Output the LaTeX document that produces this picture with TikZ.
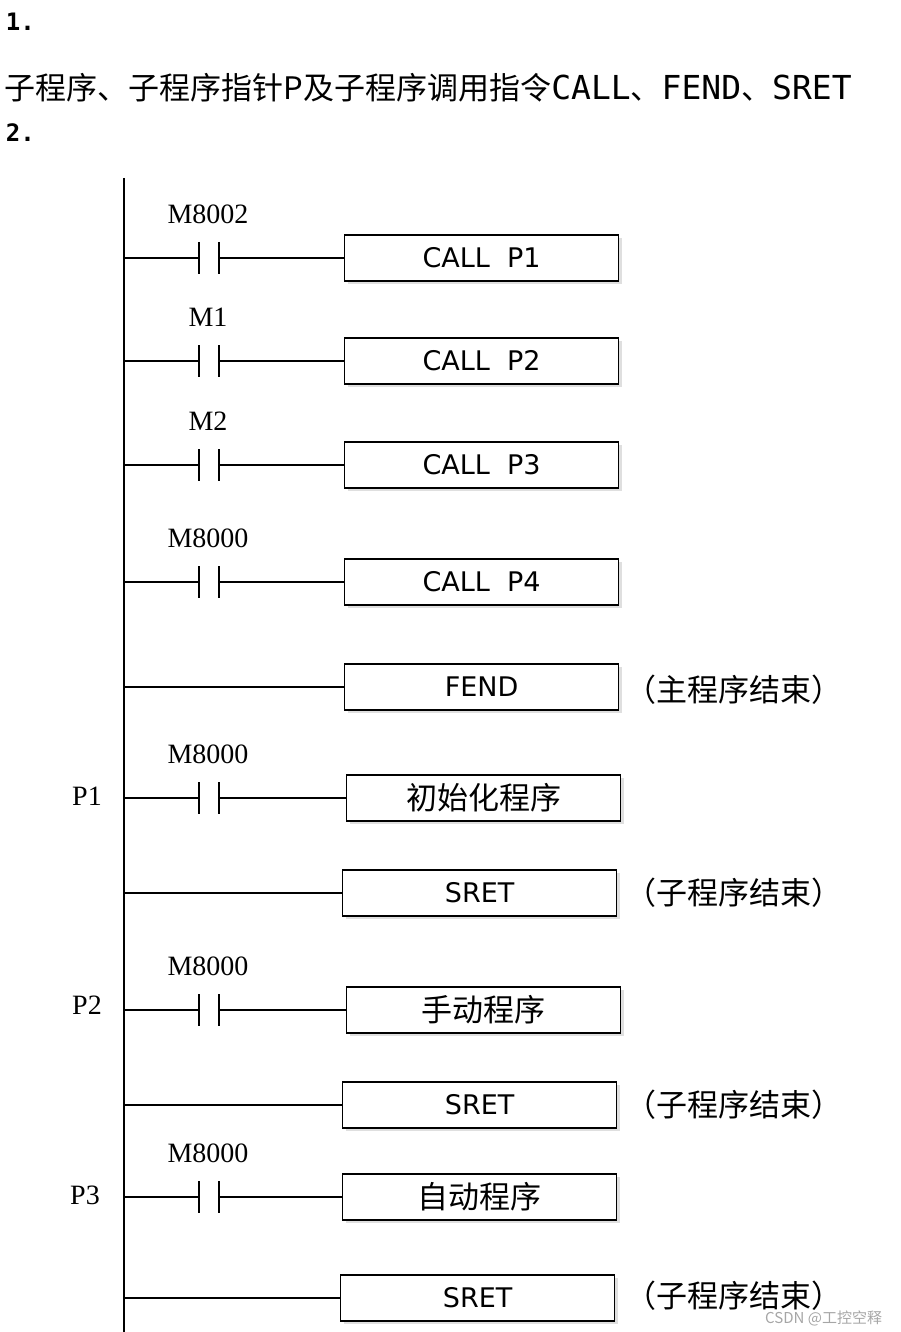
\documentclass[tikz,border=0pt]{standalone}
\usepackage{fontspec}
\usetikzlibrary{shadows}
\setmainfont{Liberation Serif}
\newfontfamily\cjk{Noto Sans CJK SC}
\newfontfamily\sans{DejaVu Sans}
\newfontfamily\mono{DejaVu Sans Mono}
\begin{document}
\begin{tikzpicture}[x=1pt,y=-1pt,line width=1.3pt,
  box/.style={draw,fill=white,minimum width=274pt,minimum height=46pt,inner sep=0,font=\sans\fontsize{27}{27}\selectfont,drop shadow={opacity=0.25,shadow xshift=3pt,shadow yshift=-3pt}},
  lab/.style={font=\fontsize{28}{28}\selectfont},
  cmt/.style={font=\cjk\fontsize{31}{31}\selectfont,anchor=west}]
\useasboundingbox (0,0) rectangle (900,1332);
\node[anchor=west,font=\mono\bfseries\fontsize{24}{24}\selectfont] (n1) at (2,22) {1.};
\node[anchor=west,font=\cjk\fontsize{31}{31}\selectfont,inner sep=0] (t) at (4,88) {子程序、子程序指针P及子程序调用指令{\mono\fontsize{33}{33}\selectfont CALL}、{\mono\fontsize{33}{33}\selectfont FEND}、{\mono\fontsize{33}{33}\selectfont SRET}};
\node[anchor=west,font=\mono\bfseries\fontsize{24}{24}\selectfont] (n2) at (2,133) {2.};
\coordinate (rt) at (124,178); \coordinate (rb) at (124,1332);
\draw (rt) -- (rb);
\foreach \y/\l/\bx/\t/\i in {258/M8002/344/{CALL\ \ P1}/a,361/M1/344/{CALL\ \ P2}/b,465/M2/344/{CALL\ \ P3}/c,582/M8000/344/{CALL\ \ P4}/d,798/M8000/346/{\cjk\fontsize{31}{31}\selectfont 初始化程序}/e,1010/M8000/346/{\cjk\fontsize{31}{31}\selectfont 手动程序}/f,1197/M8000/342/{\cjk\fontsize{31}{31}\selectfont 自动程序}/g}{
  \coordinate (L\i) at (124,\y);
  \coordinate (c1\i) at (199,\y); \coordinate (c2\i) at (219,\y);
  \node[box,anchor=west] (B\i) at (\bx,\y) {\t};
  \draw (L\i) -- (c1\i); \draw (c2\i) -- (B\i.west);
  \draw (199,\y-16) -- (199,\y+16); \draw (219,\y-16) -- (219,\y+16);
  \node[lab] (M\i) at (208,\y-44) {\l};
}
\foreach \y/\bx/\t/\i in {687/344/FEND/h,893/342/SRET/j,1105/342/SRET/k,1298/340/SRET/l}{
  \coordinate (L\i) at (124,\y);
  \node[box,anchor=west] (B\i) at (\bx,\y) {\t};
  \draw (L\i) -- (B\i.west);
}
\node[cmt] (k1) at (622,690) {（主程序结束）};
\node[cmt] (k2) at (622,893) {（子程序结束）};
\node[cmt] (k3) at (622,1105) {（子程序结束）};
\node[cmt] (k4) at (622,1296) {（子程序结束）};
\node[lab] (P1) at (87,796) {P1};
\node[lab] (P2) at (87,1005) {P2};
\node[lab] (P3) at (85,1195) {P3};
\node[anchor=east,text=gray!70,font=\cjk\fontsize{15}{15}\selectfont] (wm) at (886,1318) {CSDN @工控空释};
\end{tikzpicture}
\end{document}
